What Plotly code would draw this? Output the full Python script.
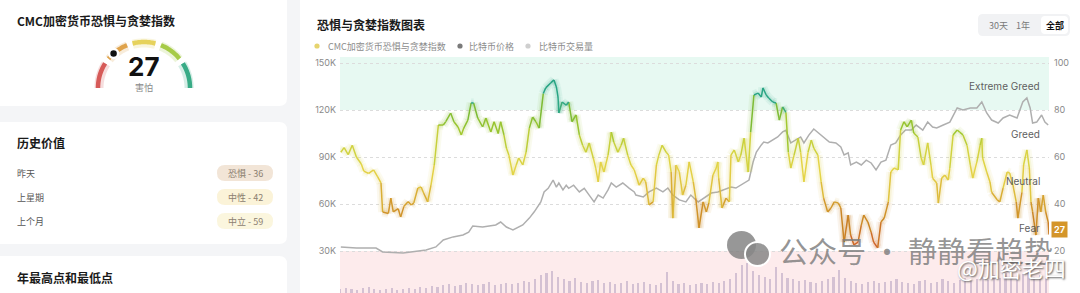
import numpy as np
import plotly.graph_objects as go
from plotly.colors import sample_colorscale

W, H = 1080, 293

# ------------------------------------------------------------------ data
# Fear & Greed index (day offset since 2023-06-30, value)
fg_days = [1, 5, 10, 15, 20, 26, 29, 35, 41, 46, 50, 52, 59, 62, 65, 71, 74, 78, 83, 87,
           90, 95, 99, 102, 107, 111, 115, 120, 126, 129, 135, 139, 144, 148, 151, 156, 160, 163, 168, 174,
           178, 184, 188, 193, 196, 200, 203, 206, 211, 215, 218, 223, 227, 231, 235, 239, 243, 248, 251, 257,
           261, 264, 266, 267, 271, 276, 279, 283, 288, 292, 296, 300, 304, 309, 312, 315, 318, 322, 327, 331,
           334, 339, 343, 346, 351, 355, 359, 361, 365, 370, 373, 377, 382, 386, 389, 393, 398, 401, 404, 406,
           410, 414, 418, 422, 426, 431, 434, 438, 443, 447, 450, 455, 459, 461, 462, 466, 471, 475, 477, 481,
           486, 489, 493, 498, 501, 505, 510, 514, 516, 520, 523, 528, 532, 536, 540, 544, 547, 550, 554, 559,
           562, 566, 571, 575, 578, 583, 587, 590, 595, 599, 603, 608, 611, 615, 620, 623, 627, 632, 636, 639,
           644, 648, 651, 656, 660, 664, 669, 672, 676, 681, 684, 688, 692, 697, 700, 705, 709, 712, 717, 721,
           723, 728, 730, 734, 738, 742, 744, 748, 753, 756, 760, 765, 769, 772, 777, 781, 783, 784, 789, 793,
           795, 802, 805, 809, 814, 817, 821, 825, 827, 832, 834, 838, 841, 843, 845, 849, 852, 855, 858, 861,
           864, 865]
fg_values = [62, 64, 61, 65, 60, 57, 54, 53, 54.5, 51.5, 49, 36.6, 36, 42.5, 36.6, 38, 34.5, 39, 41, 39.6,
             40.4, 46.8, 47.2, 44.7, 40.9, 48, 56.6, 73.6, 73.6, 75, 78.7, 75, 72.8, 69.4, 72.3, 75.7, 83, 83, 76.6, 72.8,
             76.6, 70.6, 75, 70, 75, 69.4, 63.8, 60.8, 52.3, 56.6, 59.6, 56.6, 62, 72.3, 77, 75, 72.3, 87, 89.4, 91.5,
             92.8, 89.8, 85.5, 78.7, 83.4, 82, 83.4, 75, 77.9, 69.4, 65, 62, 66, 59.6, 55.3, 49.4, 57.9, 53.6, 60.8, 70.6,
             66.4, 62, 65, 68, 60.8, 56.6, 54.5, 52.3, 48, 51, 49.4, 39.6, 40.9, 56.6, 60.8, 65, 62, 60.8, 53.6, 34,
             56.6, 53.6, 43.8, 48, 57.9, 49.4, 42.5, 29.8, 40.9, 36.6, 40.4, 52.3, 55.3, 57.9, 51, 38.3, 42.5, 40.9, 60.8, 63,
             57.9, 60.8, 68, 53.6, 70.6, 86.4, 87.2, 85.5, 89.4, 86.4, 85.1, 83.4, 83, 75.7, 81.3, 79, 62, 55.3, 60.8, 68,
             62, 49.4, 62, 67.2, 63.8, 60.8, 49.4, 42.5, 36.6, 38.3, 40.9, 40.4, 38.3, 23.8, 35.3, 26.8, 22.6, 23.8, 31, 35.3,
             32.3, 28, 23.8, 21.3, 32.3, 34, 40.9, 53.6, 55.3, 54.5, 71.5, 75, 72.8, 75.7, 70.2, 68.5, 59.6, 56.6, 66, 56.6,
             51, 48.9, 40.4, 51, 52.3, 50.2, 55.3, 69.4, 71.5, 70.6, 69.4, 65, 56.6, 51, 57.9, 65, 68, 59.6, 53.6, 49.4,
             45, 41.7, 40.9, 46.8, 53.6, 53.2, 48, 40.9, 34, 45, 56.6, 63, 55.3, 40.9, 36.6, 26.8, 42.5, 36.6, 43.8, 36.6,
             32.3, 27]

# Bitcoin price (day offset, thousand USD)
btc_days = [1, 20, 44, 52, 77, 105, 117, 126, 138, 150, 157, 162, 174, 190, 196, 203, 211, 223, 231, 237,
            245, 249, 254, 260, 264, 267, 272, 276, 279, 285, 292, 298, 304, 310, 315, 321, 327, 331, 337, 345,
            353, 359, 361, 370, 377, 386, 394, 400, 406, 414, 422, 428, 437, 444, 453, 461, 468, 477, 483, 489,
            495, 499, 504, 508, 514, 517, 522, 528, 534, 540, 544, 550, 556, 562, 566, 572, 578, 584, 590, 597,
            605, 611, 615, 620, 623, 630, 636, 642, 648, 654, 660, 666, 672, 678, 684, 690, 697, 703, 711, 717,
            723, 728, 736, 744, 753, 760, 769, 777, 783, 789, 795, 803, 809, 817, 826, 833, 838, 842, 845, 850,
            856, 860, 864]
btc_price_k = [32.6, 31.9, 31.9, 29.4, 28.7, 30.6, 32.6, 37, 39, 40.2, 42, 46, 45.3, 46.6, 48.5, 45.3, 43.4, 46.6, 51, 55,
               61.3, 67.7, 70, 75.3, 70.8, 73.4, 69, 72, 70, 72, 67.7, 70, 65.7, 61.3, 65.7, 63.8, 69, 73.4, 70.8, 73.4,
               70, 67.7, 65.7, 64.5, 67.7, 70.2, 67.7, 70.2, 65.7, 62.6, 61.3, 65.7, 61.3, 63.8, 67, 67.7, 69, 70.8, 70.2, 72,
               74, 75.3, 86.8, 93.2, 97.7, 99.6, 99, 100.9, 102.8, 106, 107, 99, 101, 102.8, 99, 104, 107.9, 105.3, 102.8, 99.6,
               99, 96.4, 91.3, 92.6, 84.9, 86.8, 84.9, 88, 86.2, 81.7, 86.8, 88, 97.7, 99, 104, 107.2, 107.2, 110.4, 107.2, 112.3,
               109.1, 108.5, 110.4, 112.3, 121.3, 120, 121.3, 121.3, 125.1, 118.1, 113.6, 111.7, 114.9, 116.8, 114.9, 125.1, 127.7, 121.3, 111.7, 112.3,
               116.8, 112.3, 110.4]

# Bitcoin trading volume, weekly buckets (billion USD, relative)
btc_volume = [4, 5, 4, 3, 5, 6, 4, 3, 4, 5, 3, 4, 5, 4, 6, 5,
              7, 6, 8, 9, 7, 8, 10, 9, 8, 9, 11, 8, 9, 10, 9,
              10, 12, 11, 14, 18, 20, 22, 16,
              14, 12, 15, 11, 10, 12, 13, 10, 11, 9, 10, 12,
              9, 10, 11, 9, 8, 10, 21, 12, 9, 10,
              8, 9, 10, 9, 11, 10, 12, 14, 20, 28,
              30, 22, 18, 16, 14, 26, 20, 15, 14, 12,
              13, 11, 10, 12, 14, 16, 23, 15, 12, 10, 9, 11, 12, 10, 11,
              12, 14, 11, 10, 9, 12, 13, 10, 11, 14, 12, 10, 13, 15, 12,
              14, 16, 13, 18, 15, 20, 17, 14, 19, 23, 16, 18, 15]
vol_days = np.arange(len(btc_volume)) * 7

current_value = 27
current_label = "害怕"
history_rows = ["昨天", "上星期", "上个月"]
history_status = ["恐惧", "中性", "中立"]
history_values = [36, 42, 59]

price_ticks = [30, 60, 90, 120, 150]
price_tick_text = ["30K", "60K", "90K", "120K", "150K"]
index_ticks = [20, 40, 60, 80, 100]
zone_names = ["Extreme Greed", "Greed", "Neutral", "Fear"]
zone_mids = [90, 70, 50, 30]

# ------------------------------------------------------------------ helpers
def px(x):
    return x / W

def py(y):
    return 1 - y / H

def rrect(x0, y0, x1, y1, r):
    return (f"M{px(x0 + r)},{py(y0)} L{px(x1 - r)},{py(y0)} Q{px(x1)},{py(y0)} {px(x1)},{py(y0 + r)} "
            f"L{px(x1)},{py(y1 - r)} Q{px(x1)},{py(y1)} {px(x1 - r)},{py(y1)} "
            f"L{px(x0 + r)},{py(y1)} Q{px(x0)},{py(y1)} {px(x0)},{py(y1 - r)} "
            f"L{px(x0)},{py(y0 + r)} Q{px(x0)},{py(y0)} {px(x0 + r)},{py(y0)} Z")

FONT = "Inter, 'Noto Sans CJK SC', sans-serif"
CJK = "'Noto Sans CJK SC', Inter, sans-serif"

fig = go.Figure()

# ------------------------------------------------------------------ main chart
X0, X1 = 340, 1049
YT, YB = 57, 293
fig.update_layout(
    xaxis=dict(domain=[px(X0), px(X1)], range=[0, 865], visible=False),
    yaxis=dict(domain=[py(YB), py(YT)], range=[3.191, 153.83], tickvals=price_ticks,
               ticktext=price_tick_text, showgrid=True, gridcolor="#dcdcdc", griddash="dot",
               gridwidth=1, zeroline=False, showline=False, ticks="",
               tickfont=dict(size=9, color="#8a8a8a", family=FONT), ticklabelstandoff=3),
    yaxis2=dict(overlaying="y", side="right", range=[2.128, 102.55], tickvals=index_ticks,
                showgrid=False, zeroline=False, showline=False, ticks="",
                tickfont=dict(size=9, color="#8a8a8a", family=FONT), ticklabelstandoff=4),
    yaxis3=dict(overlaying="y", range=[0, 236], visible=False),
)

fig.add_trace(go.Bar(x=vol_days, y=btc_volume, yaxis="y3", width=2.6,
                     marker=dict(color="rgba(150,130,175,0.40)", line=dict(width=0)),
                     hoverinfo="skip", showlegend=False))

fig.add_trace(go.Scatter(x=btc_days, y=btc_price_k, yaxis="y", mode="lines",
                         line=dict(color="#afafaf", width=1.5), hoverinfo="skip", showlegend=False))

line_scale = [
    [0.00, '#d83b33'], [0.20, '#d2552a'], [0.30, '#c98324'], [0.40, '#d39a2c'],
    [0.46, '#dfc23e'], [0.55, '#e4d447'], [0.64, '#cdd23e'], [0.72, '#9cc62e'],
    [0.79, '#7dbb34'], [0.815, '#2ea886'], [1.00, '#1e9f7f'],
]
bins = {}
for i in range(len(fg_days) - 1):
    v = (fg_values[i] + fg_values[i + 1]) / 2
    b = int(v // 2)
    xs, ys = bins.setdefault(b, ([], []))
    xs += [fg_days[i], fg_days[i + 1], None]
    ys += [fg_values[i], fg_values[i + 1], None]
for width, op in [(9, 0.08), (5, 0.12)]:
    for b in sorted(bins):
        col = sample_colorscale(line_scale, [(b * 2 + 1) / 100])[0]
        xs, ys = bins[b]
        fig.add_trace(go.Scatter(x=xs, y=ys, yaxis="y2", mode="lines", opacity=op,
                                 line=dict(color=col, width=width), hoverinfo="skip", showlegend=False))
for b in sorted(bins):
    col = sample_colorscale(line_scale, [(b * 2 + 1) / 100])[0]
    xs, ys = bins[b]
    fig.add_trace(go.Scatter(x=xs, y=ys, yaxis="y2", mode="lines",
                             line=dict(color=col, width=1.5), hoverinfo="skip", showlegend=False))

# ------------------------------------------------------------------ gauge (polar)
R = 46 * 1.08
fig.update_layout(polar=dict(
    domain=dict(x=[px(144 - R), px(144 + R)], y=[py(88), py(88 - R)]),
    sector=[0, 180], bgcolor="rgba(0,0,0,0)",
    radialaxis=dict(visible=False, range=[0, 1.08]),
    angularaxis=dict(visible=False),
))
gauge_bounds = [0, 20, 40, 60, 80, 100]
gauge_colors = ["#d65a58", "#dfa34c", "#e6d25c", "#a6cb48", "#38ab86"]
for k in range(5):
    lo = gauge_bounds[k] + (0 if k == 0 else 2)
    hi = gauge_bounds[k + 1] - (0 if k == 4 else 2)
    vv = np.linspace(lo, hi, 24)
    th = 180 - vv * 1.8
    fig.add_trace(go.Scatterpolar(r=[1] * len(th), theta=th, mode="lines", subplot="polar",
                                  line=dict(color=gauge_colors[k], width=11), opacity=0.2,
                                  hoverinfo="skip", showlegend=False))
    fig.add_trace(go.Scatterpolar(r=[1] * len(th), theta=th, mode="lines", subplot="polar",
                                  line=dict(color=gauge_colors[k], width=4.5),
                                  hoverinfo="skip", showlegend=False))
fig.add_trace(go.Scatterpolar(r=[1], theta=[180 - current_value * 1.8], mode="markers", subplot="polar",
                              marker=dict(color="#111111", size=9, line=dict(color="white", width=2.5)),
                              hoverinfo="skip", showlegend=False))

# ------------------------------------------------------------------ cards (background)
shapes = [
    dict(type="path", path=rrect(-10, -12, 287, 106, 8), xref="paper", yref="paper",
         fillcolor="white", line=dict(width=0), layer="below"),
    dict(type="path", path=rrect(-10, 122, 287, 244, 8), xref="paper", yref="paper",
         fillcolor="white", line=dict(width=0), layer="below"),
    dict(type="path", path=rrect(-10, 256, 287, 320, 8), xref="paper", yref="paper",
         fillcolor="white", line=dict(width=0), layer="below"),
    dict(type="path", path=rrect(300, -12, 1095, 320, 8), xref="paper", yref="paper",
         fillcolor="white", line=dict(width=0), layer="below"),
    # zone bands
    dict(type="rect", xref="x", yref="y2", x0=0, x1=865, y0=80, y1=102.55,
         fillcolor="rgba(22,199,132,0.10)", line=dict(width=0), layer="below"),
    dict(type="rect", xref="x", yref="y2", x0=0, x1=865, y0=0, y1=20,
         fillcolor="rgba(234,57,67,0.10)", line=dict(width=0), layer="below"),
    # buttons group
    dict(type="path", path=rrect(978, 14, 1070, 36, 5), xref="paper", yref="paper",
         fillcolor="#f1f2f4", line=dict(width=0), layer="below"),
    dict(type="path", path=rrect(1041, 16, 1068, 34, 4), xref="paper", yref="paper",
         fillcolor="white", line=dict(width=0), layer="below"),
]
# history badges
badge_cols = ["#f2e5d7", "#fbf3d8", "#fbf6de"]
for k in range(3):
    yc = 173 + 24 * k
    shapes.append(dict(type="path", path=rrect(217, yc - 8, 273, yc + 8, 8), xref="paper", yref="paper",
                       fillcolor=badge_cols[k], line=dict(width=0), layer="below"))
# legend dots
for cx, col in [(317, "#e6d46e"), (460, "#7a7a7a"), (528, "#cfcfcf")]:
    shapes.append(dict(type="circle", xref="paper", yref="paper", x0=px(cx - 2.6), x1=px(cx + 2.6),
                       y0=py(46 + 2.6), y1=py(46 - 2.6), fillcolor=col, line=dict(width=0)))
# watermark icon (two chat bubbles)
shapes.append(dict(type="circle", xref="paper", yref="paper", x0=px(727), x1=px(756), y0=py(259), y1=py(231),
                   fillcolor="rgba(125,125,125,0.8)", line=dict(width=0)))
shapes.append(dict(type="circle", xref="paper", yref="paper", x0=px(745), x1=px(770), y0=py(266), y1=py(242),
                   fillcolor="rgba(135,135,135,0.85)", line=dict(color="white", width=2)))
fig.update_layout(shapes=shapes)

# ------------------------------------------------------------------ annotations
ann = []

def text(x, y, s, size, color="#222", bold=False, anchor="left", family=CJK, **kw):
    ann.append(dict(x=px(x), y=py(y), xref="paper", yref="paper", text=f"<b>{s}</b>" if bold else s,
                    showarrow=False, xanchor=anchor, yanchor="middle",
                    font=dict(size=size, color=color, family=family), **kw))

text(15, 20, "CMC加密货币恐惧与贪婪指数", 12, "#1a1a1a", True)
text(144, 67, str(current_value), 26, "#111", True, "center", FONT)
text(144, 87, current_label, 9, "#8a8a8a", False, "center")
text(15, 143, "历史价值", 12, "#1a1a1a", True)
for k in range(3):
    yc = 173 + 24 * k
    text(15, yc, history_rows[k], 9, "#555")
    text(245, yc, f"{history_status[k]} - {history_values[k]}", 9, "#8c8070", False, "center")
text(15, 277, "年最高点和最低点", 12, "#1a1a1a", True)

text(315, 24, "恐惧与贪婪指数图表", 12, "#1a1a1a", True)
text(326, 46, "CMC加密货币恐惧与贪婪指数", 9, "#8c8c8c")
text(467, 46, "比特币价格", 9, "#8c8c8c")
text(537, 46, "比特币交易量", 9, "#8c8c8c")
text(998, 25, "30天", 9, "#7a7a7a", False, "center")
text(1023, 25, "1年", 9, "#7a7a7a", False, "center")
text(1054.5, 25, "全部", 9, "#111", True, "center")

for name, mid in zip(zone_names, zone_mids):
    ann.append(dict(x=px(1042), xref="paper", y=mid, yref="y2", text=name, showarrow=False,
                    xanchor="right", yanchor="middle", font=dict(size=10, color="#5f5f5f", family=FONT)))
ann.append(dict(x=px(1051), xref="paper", y=fg_values[-1] + 2, yref="y2", text=f"<b>{current_value}</b>",
                showarrow=False, xanchor="left", yanchor="middle", bgcolor="#d4952a", borderpad=2,
                font=dict(size=9, color="white", family=FONT)))

# watermarks
text(777, 250, "公众号 · 静静看趋势", 29, "rgba(125,125,125,0.82)")
ann.append(dict(x=px(955), y=py(267), xref="paper", yref="paper", text="@加密老四", showarrow=False,
                xanchor="left", yanchor="middle",
                font=dict(size=22, color="white", family=CJK, shadow="1px 1px 2px #555")))

fig.update_layout(annotations=ann)

fig.update_layout(
    width=W, height=H, autosize=False,
    margin=dict(l=0, r=0, t=0, b=0, pad=0),
    paper_bgcolor="#f4f5f7", plot_bgcolor="rgba(0,0,0,0)",
    showlegend=False, bargap=0,
    font=dict(family=FONT),
)

fig.write_html("out.html", config={"displayModeBar": False})
